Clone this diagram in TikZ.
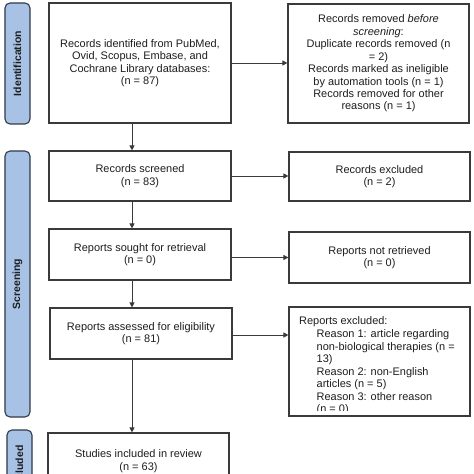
\documentclass[tikz,border=0pt]{standalone}
\usepackage{fontspec}
\setmainfont{Liberation Sans}
\usetikzlibrary{arrows.meta}
\definecolor{labfill}{HTML}{A8C2E6}
\definecolor{labdraw}{HTML}{2E3A4A}
\definecolor{boxdraw}{HTML}{3A3A3A}
\definecolor{txt}{HTML}{1E1E1E}
\tikzset{
  box/.style={draw=boxdraw, line width=1.2bp, fill=white, inner sep=0pt, align=center,
    font=\fontsize{11}{12.5}\selectfont, text=txt},
  phase/.style={draw=labdraw, line width=1.1bp, fill=labfill, rounded corners=5bp, rotate=90,
    inner sep=0pt, font=\fontsize{10.5}{12}\selectfont\bfseries, text=txt},
  arr/.style={draw=boxdraw, line width=0.9bp, -{Triangle[length=5bp,width=5bp]}}
}
\begin{document}
\begin{tikzpicture}[x=1bp,y=-1bp]
\useasboundingbox (0,0) rectangle (474,474);
\begin{scope}
\clip (0,0) rectangle (474,474);
% phase labels
\node[phase, minimum width=121bp, minimum height=25bp] (lab1) at (17.5,63.5) {Identification};
\node[phase, minimum width=266bp, minimum height=25bp] (lab2) at (17.5,284) {Screening};
\node[phase, minimum width=74bp, minimum height=25bp] (lab3) at (19.5,467) {Included};
% left column
\node[box, minimum width=182bp, minimum height=120bp] (b1) at (140,63)
  {Records identified from PubMed,\\Ovid, Scopus, Embase, and\\Cochrane Library databases:\\(n = 87)};
\node[box, minimum width=182bp, minimum height=50bp] (b2) at (140,176)
  {Records screened\\(n = 83)};
\node[box, minimum width=182bp, minimum height=51bp] (b3) at (140,254.5)
  {Reports sought for retrieval\\(n = 0)};
\node[box, minimum width=182bp, minimum height=51bp] (b4) at (141,333.5)
  {Reports assessed for eligibility\\(n = 81)};
\node[box, minimum width=181bp, minimum height=56bp] (b5) at (138.5,461)
  {Studies included in review\\(n = 63)};
% right column
\node[box, minimum width=181bp, minimum height=119bp] (r1) at (378.5,63.5)
  {Records removed \textit{before}\\\textit{screening}:\\Duplicate records removed (n\\= 2)\\Records marked as ineligible\\by automation tools (n = 1)\\Records removed for other\\reasons (n = 1)};
\node[box, minimum width=181bp, minimum height=49bp] (r2) at (379.5,176.5)
  {Records excluded\\(n = 2)};
\node[box, minimum width=181bp, minimum height=51bp] (r3) at (379.5,257.5)
  {Reports not retrieved\\(n = 0)};
\node[box, minimum width=181bp, minimum height=109bp] (r4) at (379.5,361.5) {};
\begin{scope}
\clip (285,305) rectangle (474,410);
\node[anchor=west, inner sep=0pt, align=left, text=txt, font=\fontsize{11}{12.6}\selectfont] (r4t) at (299,366)
  {Reports excluded:\\
   \hspace*{17.5bp}Reason 1: article regarding\\
   \hspace*{17.5bp}non-biological therapies (n =\\
   \hspace*{17.5bp}13)\\
   \hspace*{17.5bp}Reason 2: non-English\\
   \hspace*{17.5bp}articles (n = 5)\\
   \hspace*{17.5bp}Reason 3: other reason\\
   \hspace*{17.5bp}(n = 0)};
\end{scope}
% arrows
\coordinate (ax) at (132,0);
\draw[arr] (b1.south -| ax) -- (b2.north -| ax);
\draw[arr] (b2.south -| ax) -- (b3.north -| ax);
\draw[arr] (b3.south -| ax) -- (b4.north -| ax);
\draw[arr] (b4.south -| ax) -- (b5.north -| ax);
\draw[arr] (b1.east) -- (b1.east -| r1.west);
\draw[arr] (b2.east) -- (b2.east -| r2.west);
\draw[arr] (b3.east |- r3.west) -- (r3.west);
\draw[arr] (b4.east |- 0,335) -- (r4.west |- 0,335);
\end{scope}
\end{tikzpicture}
\end{document}
